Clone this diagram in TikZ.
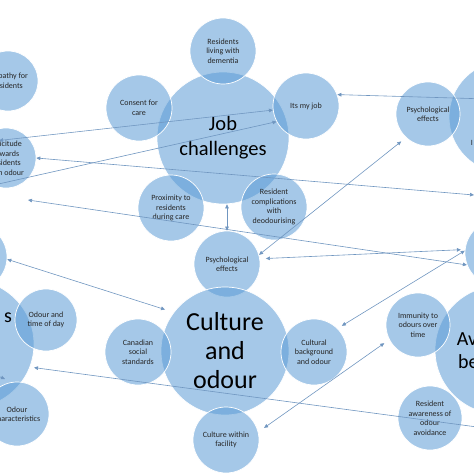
\documentclass[tikz,border=0pt]{standalone}
\usepackage{fontspec}
\setmainfont{Carlito}
\usepackage{xcolor}
\usetikzlibrary{arrows.meta, calc}

\definecolor{bubbleblue}{HTML}{5B9BD5}
\definecolor{linkblue}{RGB}{112,150,192}
\definecolor{textgrey}{RGB}{38,38,38}

\begin{document}
\begin{tikzpicture}[x=1pt, y=-1pt,
    bubble/.style={circle, fill=bubbleblue, fill opacity=0.55, text opacity=1,
        draw=white, line width=0.7pt, inner sep=0pt, minimum size=66pt,
        align=center, text=textgrey, font=\fontsize{8}{9.5}\selectfont},
    hub/.style={bubble, text=black, minimum size=#1},
    link/.style={linkblue, line width=0.6pt,
        {Triangle[length=4pt,width=3.6pt]}-{Triangle[length=4pt,width=3.6pt]}},
    oneway/.style={linkblue, line width=0.6pt, -{Triangle[length=4pt,width=3.6pt]}}]

    % --- 1. CANVAS ---
    \useasboundingbox (0,0) rectangle (474,474);
    \clip (0,0) rectangle (474,474);

    % --- 2. JOB CHALLENGES ---
    \node[hub=132pt, font=\fontsize{20.5}{25}\selectfont] (jobc) at (223,138) {Job\\challenges};
    \node[bubble] (dementia) at (223,51) {Residents\\living with\\dementia};
    \node[bubble] (consent) at (139,108) {Consent for\\care};
    \node[bubble] (itsmyjob) at (306,106) {Its my job};
    \node[bubble] (proximity) at (171,208) {Proximity to\\residents\\during care};
    \node[bubble] (complic) at (274,207) {Resident\\complications\\with\\deodourising};

    % --- 3. CULTURE AND ODOUR ---
    \node[bubble] (psychmid) at (227,264) {Psychological\\effects};
    \node[hub=128pt, font=\fontsize{26}{29}\selectfont] (culture) at (225,351) {Culture\\and\\odour};
    \node[bubble] (canadian) at (138,352) {Canadian\\social\\standards};
    \node[bubble] (cultbg) at (314,352) {Cultural\\background\\and odour};
    \node[bubble] (within) at (226,440) {Culture within\\facility};

    % --- 4. RIGHT SIDE (cut by the frame) ---
    \node[hub=112pt] (bigtr) at (505,117) {};
    \node[text=textgrey, font=\fontsize{8}{9.5}\selectfont] (bigtrcap) at (472,143) {I};
    \node[bubble, minimum size=64pt] (psychright) at (428,114) {Psychological\\effects};
    \node[bubble] (midright) at (498,253) {};
    \node[hub=128pt, font=\fontsize{20}{23}\selectfont] (avoid) at (499,350) {Avoidance\\behaviour};
    \node[bubble, minimum size=64pt] (immunity) at (418,325) {Immunity to\\odours over\\time};
    \node[bubble, minimum size=64pt] (awareness) at (430,418) {Resident\\awareness of\\odour\\avoidance};

    % --- 5. LEFT SIDE (cut by the frame) ---
    \node[bubble, minimum size=60pt] (empathy) at (8,81) {Empathy for\\residents};
    \node[bubble, minimum size=60pt] (solic) at (6,158) {Solicitude\\towards\\residents\\with odour};
    \node[bubble] (leftsmall) at (-26,257) {};
    \node[hub=128pt] (leftbig) at (-30,344) {};
    \node[font=\fontsize{20}{24}\selectfont] (leftcap) at (8,318) {s};
    \node[bubble, minimum size=62pt] (odourtime) at (46,320) {Odour and\\time of day};
    \node[bubble, minimum size=64pt] (odourchar) at (17,414) {Odour\\characteristics};

    % --- 6. FREE ENDS ---
    \coordinate (edgeA) at (-1,140.5);
    \coordinate (edgeB) at (-6,185);
    \coordinate (edgeC) at (474,195);
    \coordinate (freeD) at (28,200);
    \coordinate (edgeE) at (492,429);
    \coordinate (edgeF) at (522,100);
    \coordinate (edgeG) at (-12,372);
    \coordinate (tipG) at (5,379);

    % --- 7. CONNECTORS ---
    \draw[link] (edgeA) -- (itsmyjob.187);
    \draw[oneway] (edgeB) -- (itsmyjob.208);
    \draw[oneway] (edgeF) -- (itsmyjob.20);
    \draw[link] (solic.east) -- (edgeC);
    \draw[link] (freeD) -- (midright.201);
    \draw[link] (jobc.south -| psychmid.north) -- (psychmid.north);
    \draw[link, shorten <=6pt, shorten >=4pt] (psychmid.9) -- (midright.174);
    \draw[link, shorten >=6pt] (psychmid.16) -- (psychright.227);
    \draw[link, shorten >=9pt] (leftsmall.-4) -- (culture.143);
    \draw[link, shorten <=4pt] (leftbig.-21) -- (edgeE);
    \draw[link, shorten <=7pt, shorten >=6pt] (within.14) -- (immunity.207);
    \draw[link, shorten <=5pt] (cultbg.45) -- (midright.176);
    \draw[oneway] (edgeG) -- (tipG);

\end{tikzpicture}
\end{document}
